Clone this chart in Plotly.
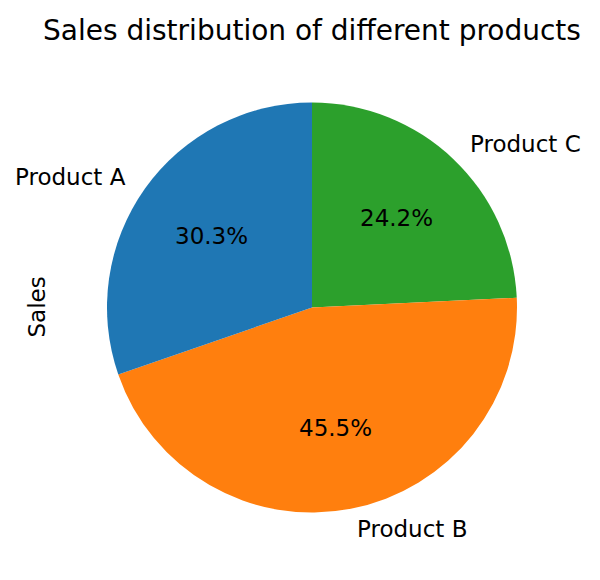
import math
import plotly.graph_objects as go

labels = ["Product A", "Product B", "Product C"]
sales = [100, 150, 80]
colors = ["#1f77b4", "#ff7f0e", "#2ca02c"]

W, H = 600, 580
OFF = 8  # page body margin in the browser
L, R, T, B = 107 - OFF, 83 + OFF, 102 - OFF, 67 + OFF
pw, ph = W - L - R, H - T - B
radius = min(pw, ph) / 2.0
cx_px = L + pw / 2.0
cy_px = T + ph / 2.0

font_family = "DejaVu Sans"
FS = 23

fig = go.Figure()
# matplotlib draws counterclockwise from 12 o'clock; equivalently clockwise in reversed order
fig.add_trace(go.Pie(
    labels=labels[::-1], values=sales[::-1], sort=False, direction="clockwise",
    rotation=0, marker=dict(colors=colors[::-1], line=dict(width=0)),
    textinfo="none", hoverinfo="label+percent", showlegend=False,
    domain=dict(x=[0, 1], y=[0, 1]),
))

total = sum(sales)
annotations = []
start = 90.0
for lab, v in zip(labels, sales):
    span = 360.0 * v / total
    mid = math.radians(start + span / 2.0)
    start += span
    cx, sy = math.cos(mid), math.sin(mid)
    px = cx_px + 0.6 * radius * cx
    py = cy_px - 0.6 * radius * sy
    annotations.append(dict(
        x=(px - L) / pw, y=1 - (py - T) / ph, xref="paper", yref="paper",
        text=f"{100.0 * v / total:.1f}%", showarrow=False,
        xanchor="center", yanchor="middle",
        font=dict(family=font_family, size=FS, color="black")))
    lx = cx_px + 1.1 * radius * cx
    ly = cy_px - 1.1 * radius * sy
    annotations.append(dict(
        x=(lx - L) / pw, y=1 - (ly - T) / ph, xref="paper", yref="paper",
        text=lab, showarrow=False,
        xanchor="left" if cx > 0 else "right", yanchor="middle",
        font=dict(family=font_family, size=FS, color="black")))

annotations.append(dict(
    x=(36 - OFF - L) / pw, y=0.5, xref="paper", yref="paper", text="Sales",
    textangle=-90, showarrow=False, xanchor="center", yanchor="middle",
    font=dict(family=font_family, size=FS, color="black")))

fig.update_layout(
    width=W, height=H,
    margin=dict(l=L, r=R, t=T, b=B, pad=0),
    paper_bgcolor="white", plot_bgcolor="white",
    title=dict(text="Sales distribution of different products",
               x=(312 - OFF) / W, xanchor="center", y=1 - (30 - OFF) / H, yanchor="middle",
               font=dict(family=font_family, size=28, color="black")),
    annotations=annotations,
)

fig.write_html("out.html")
